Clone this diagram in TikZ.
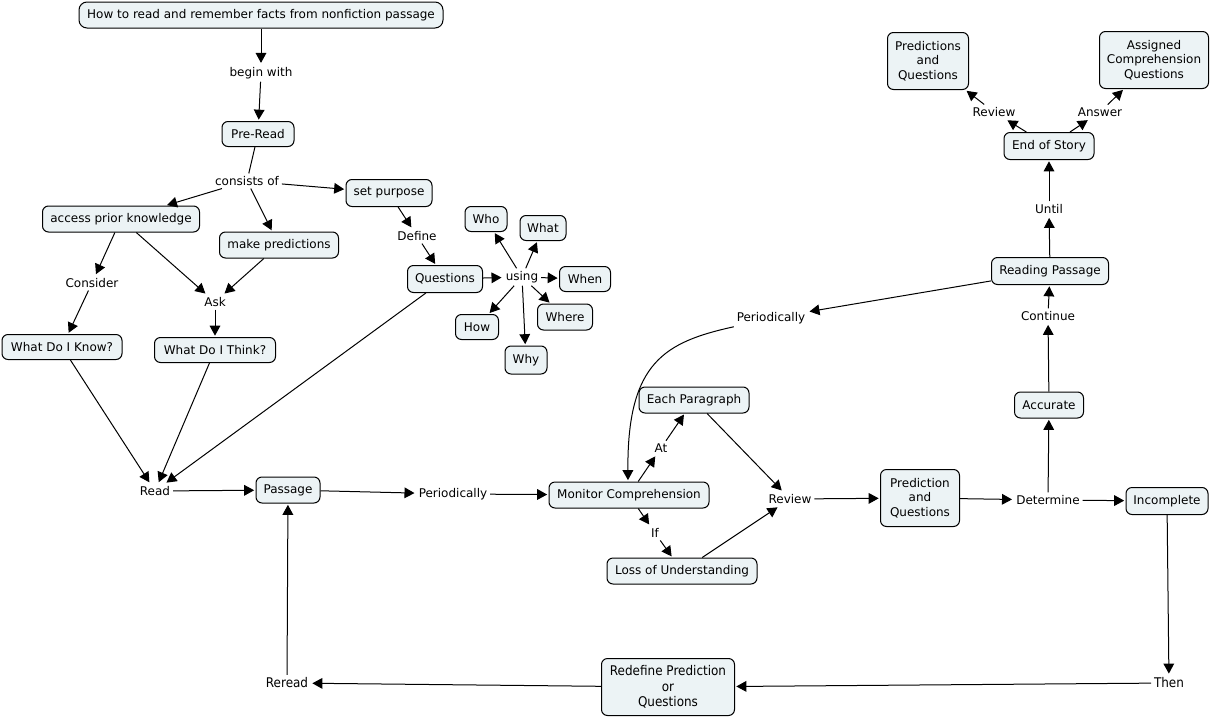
\documentclass[tikz,border=0pt]{standalone}
\usepackage{fontspec}
\setmainfont{DejaVu Sans}
\newfontfamily\condfont[FakeStretch=0.9]{DejaVu Sans}
\usetikzlibrary{arrows.meta}
\definecolor{cfill}{RGB}{236,243,245}
\begin{document}
\begin{tikzpicture}[x=0.75pt,y=-0.75pt,
  every node/.style={font=\fontsize{9pt}{11pt}\selectfont},
  concept/.style={draw, fill=cfill, rounded corners=4.5pt, line width=0.75pt, align=center, inner sep=1pt},
  sz/.style 2 args={minimum width=#1*0.75pt, minimum height=#2*0.75pt},
  lp/.style={inner sep=2pt, align=center},
  cond/.style={font=\condfont\fontsize{10pt}{11.5pt}\selectfont},
  arr/.style={line width=0.75pt, -{Triangle[length=7.5pt,width=8pt]}, shorten >=1pt},
  ln/.style={line width=0.75pt}]
\useasboundingbox (0,0) rectangle (1211,718);
% concepts
\node[concept, sz={364}{26}, rounded corners=6pt] (title) at (261,15) {How to read and remember facts from nonfiction passage};
\node[concept, sz={72}{25}] (preread) at (258,134) {Pre-Read};
\node[concept, sz={86}{27}] (setp) at (389,193) {set purpose};
\node[concept, sz={157}{26}] (apk) at (121,219) {access prior knowledge};
\node[concept, sz={119}{26}] (mkp) at (279,245) {make predictions};
\node[concept, sz={75}{27}] (quest) at (445,279) {Questions};
\node[concept, sz={42}{25}] (who) at (486,219) {Who};
\node[concept, sz={46}{25}] (what) at (543,228) {What};
\node[concept, sz={51}{25}] (when) at (585,279) {When};
\node[concept, sz={55}{26}] (where) at (565,317) {Where};
\node[concept, sz={43}{25}] (how) at (477,327) {How};
\node[concept, sz={42}{28}] (why) at (526,360) {Why};
\node[concept, sz={120}{25}] (know) at (62,347) {What Do I Know?};
\node[concept, sz={121}{25}] (think) at (215,350) {What Do I Think?};
\node[concept, sz={64}{26}] (passage) at (288,490) {Passage};
\node[concept, sz={160}{26}] (monitor) at (629,495) {Monitor Comprehension};
\node[concept, sz={110}{26}] (eachp) at (694,400) {Each Paragraph};
\node[concept, sz={150}{26}] (loss) at (682,571) {Loss of Understanding};
\node[concept, sz={79}{57}] (predq) at (920,498) {Prediction\\and\\Questions};
\node[concept, sz={82}{27}] (incompl) at (1167,501) {Incomplete};
\node[concept, sz={69}{26}] (accur) at (1049,405) {Accurate};
\node[concept, sz={117}{27}] (readp) at (1050,271) {Reading Passage};
\node[concept, sz={90}{27}] (endst) at (1049,146) {End of Story};
\node[concept, sz={81}{57}] (predq2) at (928,61) {Predictions\\and\\Questions};
\node[concept, sz={109}{57}] (assig) at (1154,60) {Assigned\\Comprehension\\Questions};
\node[concept, sz={133}{57}, cond] (redef) at (668,687) {Redefine Prediction\\or\\Questions};
% linking phrases
\node[lp] (beginw) at (261,73) {begin with};
\node[lp] (consists) at (247,181) {consists of};
\node[lp] (define) at (417,236) {Define};
\node[lp] (using) at (522,277) {using};
\node[lp] (consider) at (92,283) {Consider};
\node[lp] (ask) at (215,302) {Ask};
\node[lp] (read) at (155,491) {Read};
\node[lp] (per1) at (453,494) {Periodically};
\node[lp] (at) at (661,448) {At};
\node[lp] (if) at (655,533) {If};
\node[lp] (review1) at (790,499) {Review};
\node[lp] (determine) at (1048,500) {Determine};
\node[lp] (continue) at (1048,316) {Continue};
\node[lp] (until) at (1049,209) {Until};
\node[lp] (review2) at (994,112) {Review};
\node[lp] (answer) at (1100,112) {Answer};
\node[lp] (per2) at (771,318) {Periodically};
\node[lp, cond] (then) at (1169,683) {Then};
\node[lp, cond] (reread) at (287,683) {Reread};
% connectors
\draw[arr] (title) -- (beginw);
\draw[arr] (beginw) -- (preread);
\draw[ln] (preread) -- (consists);
\draw[arr] (consists) -- (apk);
\draw[arr] (consists) -- (mkp);
\draw[arr] (consists) -- (setp);
\draw[arr] (setp) -- (define);
\draw[arr] (define) -- (quest);
\draw[arr] (quest) -- (using);
\draw[arr] (using) -- (who);
\draw[arr] (using) -- (what);
\draw[arr] (using) -- (when);
\draw[arr] (using) -- (where);
\draw[arr] (using) -- (how);
\draw[arr] (using) -- (why);
\draw[arr] (apk) -- (consider);
\draw[arr] (consider) -- (know);
\draw[arr] (apk) -- (ask);
\draw[arr] (mkp) -- (ask);
\draw[arr] (ask) -- (think);
\draw[arr] (know) -- (read);
\draw[arr] (think) -- (read);
\draw[arr] (quest) -- (read);
\draw[arr] (read) -- (passage);
\draw[arr] (passage) -- (per1);
\draw[arr] (per1) -- (monitor);
\draw[arr] (monitor) -- (at);
\draw[arr] (at) -- (eachp);
\draw[arr] (eachp) -- (review1);
\draw[arr] (monitor) -- (if);
\draw[arr] (if) -- (loss);
\draw[arr] (loss) -- (review1);
\draw[arr] (review1) -- (predq);
\draw[arr] (predq) -- (determine);
\draw[arr] (determine) -- (incompl);
\draw[arr] (determine) -- (accur);
\draw[arr] (accur) -- (continue);
\draw[arr] (continue) -- (readp);
\draw[arr] (readp) -- (until);
\draw[arr] (until) -- (endst);
\draw[arr] (endst) -- (review2);
\draw[arr] (review2) -- (predq2);
\draw[arr] (endst) -- (answer);
\draw[arr] (answer) -- (assig);
\draw[arr] (readp) -- (per2);
\draw[arr] (per2.south west) .. controls (665,342) and (627,362) .. (monitor.north -| 628,0);
\draw[arr] (incompl) -- (then);
\draw[arr] (then) -- (redef);
\draw[arr] (redef) -- (reread);
\draw[arr] (reread) -- (passage);
\end{tikzpicture}
\end{document}
